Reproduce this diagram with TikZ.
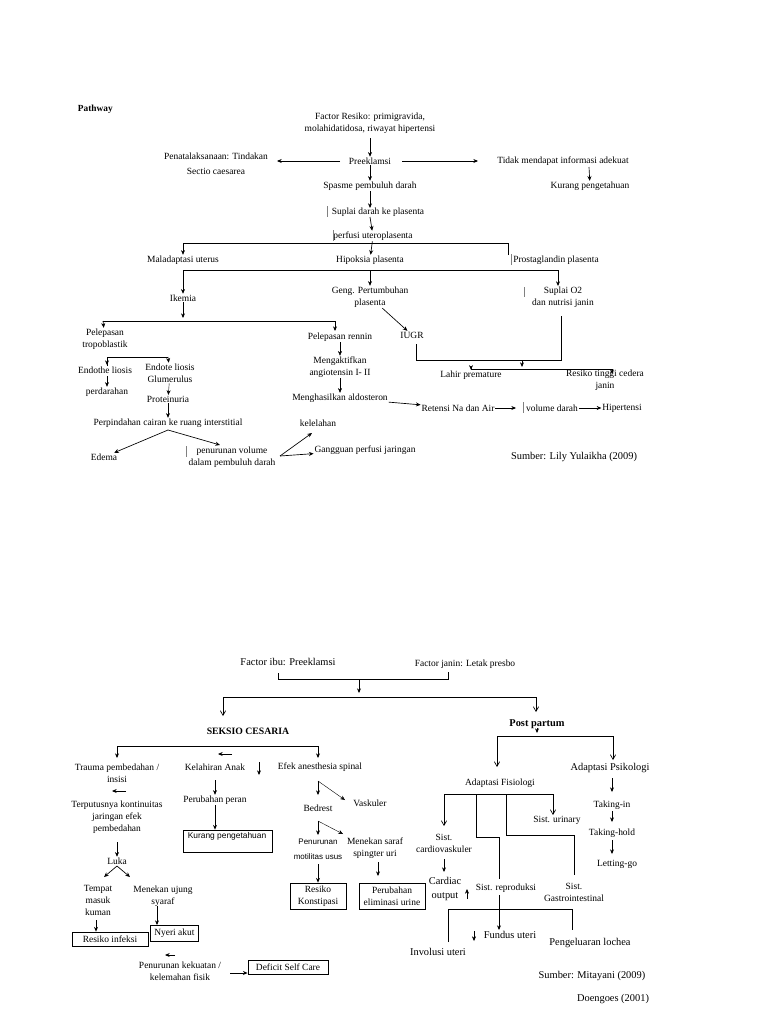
\documentclass[tikz,border=0pt]{standalone}
\usepackage{fontspec}
\setmainfont{Liberation Serif}
\newfontfamily\sansf{Liberation Sans}
\usetikzlibrary{arrows.meta}
\begin{document}
\begin{tikzpicture}[x=0.75pt,y=-0.75pt,
 t/.style={inner sep=0.5pt,align=center,font=\fontsize{7.1}{9}\selectfont},
 tb/.style={inner sep=0.5pt,align=center,font=\fontsize{7.8}{10}\selectfont},
 ar/.style={-{Stealth[length=3.5pt,width=3pt]},line width=0.5pt},
 oa/.style={-{Straight Barb[length=3.5pt,width=4pt]},line width=0.5pt},
 ln/.style={line width=0.6pt},
 tk/.style={line width=0.3pt,gray},
 bx/.style={draw,line width=0.6pt,inner sep=0pt}]
\useasboundingbox (0,0) rectangle (768,1024);
% ---------- TOP ----------
\node[t,font=\bfseries\fontsize{7}{9}\selectfont,anchor=west] (path) at (77,109) {Pathway};
\node[t] (fr) at (370,123) {Factor Resiko: primigravida,\\molahidatidosa, riwayat hipertensi};
\node[t] (pre) at (370,161) {Preeklamsi};
\node[t] (pen) at (216,164) {Penatalaksanaan: Tindakan\\[2pt]Sectio caesarea};
\node[t] (tid) at (563,161) {Tidak mendapat informasi adekuat};
\node[t] (kur) at (590,186) {Kurang pengetahuan};
\node[t] (spa) at (370,186) {Spasme pembuluh darah};
\node[t] (sup) at (378,212) {Suplai darah ke plasenta};
\node[t] (per) at (373,236) {perfusi uteroplasenta};
\draw[ar] (370,138) -- (pre);
\draw[ar] (340,161) -- (277,161);
\draw[ar] (402,161) -- (478,161);
\draw[ar] (589,167) -- (kur);
\draw[ar] (pre) -- (spa);
\draw[ar] (spa) -- (370,208);
\draw[ar] (370,217) -- (per);
\draw[tk] (327,206) -- (327,217);
\draw[tk] (333,230) -- (333,241);
\node[t] (mal) at (183,260) {Maladaptasi uterus};
\node[t] (hip) at (370,260) {Hipoksia plasenta};
\node[t] (pro) at (556,260) {Prostaglandin plasenta};
\draw[tk] (511,254) -- (511,265);
\draw[ln] (508,255) -- (508,243) -- (183,243);
\draw[ar] (183,243) -- (mal);
\draw[ar] (per) -- (hip);
\node[t] (ike) at (183,298) {Ikemia};
\node[t] (gen) at (370,297) {Geng. Pertumbuhan\\plasenta};
\node[t] (so2) at (563,297) {Suplai O2\\dan nutrisi janin};
\draw[tk] (524,287) -- (524,297);
\draw[ln] (183,278) -- (183,270) -- (558,270);
\draw[ar] (183,270) -- (ike);
\draw[ar] (370,270) -- (gen);
\draw[ar] (558,270) -- (558,286);
\draw[ar] (ike) -- (183,318);
\draw[ln] (103,321) -- (335,321);
\node[t] (pt) at (105,339) {Pelepasan\\tropoblastik};
\node[t] (pr) at (340,337) {Pelepasan rennin};
\node[t] (iugr) at (412,335) {IUGR};
\draw[ar] (103,321) -- (pt);
\draw[ar] (335,321) -- (335,331);
\draw[ar] (gen) -- (iugr);
\draw[ln] (416,344) -- (416,360) -- (561,360) -- (561,316);
\draw[ar] (522,360) -- (522,367);
\draw[ln] (471,369) -- (612,369);
\node[t] (lah) at (471,375) {Lahir premature};
\node[t] (res) at (605,380) {Resiko tinggi cedera\\janin};
\draw[ar] (471,369) -- (lah);
\draw[ar] (612,369) -- (612,374);
\draw[ln] (107,366) -- (107,357) -- (168,357);
\node[t] (e1) at (105,370) {Endothe liosis};
\node[t] (pd) at (107,392) {perdarahan};
\node[t] (e2) at (170,373) {Endote liosis\\Glumerulus};
\node[t] (prot) at (168,399) {Proteinuria};
\node[t] (pc) at (168,423) {Perpindahan cairan ke ruang interstitial};
\draw[ar] (107,357) -- (107,365);
\draw[ar] (107,376) -- (pd);
\draw[ar] (168,357) -- (e2);
\draw[ar,line width=0.3pt] (e2) -- (prot);
\draw[ar] (prot) -- (pc);
\node[t] (ede) at (104,457) {Edema};
\node[t] (pv) at (232,457) {penurunan volume\\dalam pembuluh darah};
\draw[tk] (186,446) -- (186,457);
\draw[ar] (168,430) -- (ede);
\draw[ar] (168,430) -- (220,445);
\node[t] (kel) at (318,423) {kelelahan};
\node[t] (gpj) at (365,450) {Gangguan perfusi jaringan};
\draw[ar] (280,456) -- (312,433);
\draw[ar] (280,456) -- (gpj);
\node[t] (men) at (340,367) {Mengaktifkan\\angiotensin I- II};
\node[t] (ald) at (340,398) {Menghasilkan aldosteron};
\draw[ar,line width=0.3pt] (pr) -- (men);
\draw[ar,line width=0.3pt] (men) -- (ald);
\node[t] (ret) at (458,408) {Retensi Na dan Air};
\node[t] (vd) at (552,408) {volume darah};
\node[t] (hpt) at (622,408) {Hipertensi};
\draw[tk] (523,402) -- (523,413);
\draw[ar] (ald) -- (ret);
\draw[ar] (ret) -- (516,408);
\draw[ar] (vd) -- (hpt);
\node[tb] (sum1) at (574,457) {Sumber: Lily Yulaikha (2009)};
% ---------- BOTTOM ----------
\node[tb] (fi) at (288,662) {Factor ibu: Preeklamsi};
\node[t] (fj) at (465,664) {Factor janin: Letak presbo};
\draw[ln] (278,673) -- (278,679) -- (448,679) -- (448,672);
\draw[ar] (359,679) -- (359,693);
\draw[ln] (223,697) -- (536,697);
\node[tb,font=\bfseries\fontsize{7.3}{9}\selectfont] (sc) at (248,731) {SEKSIO CESARIA};
\node[tb,font=\bfseries\fontsize{7.8}{9}\selectfont] (pp) at (537,724) {Post partum};
\draw[oa] (223,697) -- (223,716);
\draw[oa] (536,697) -- (536,712);
% SC branch
\draw[ln] (117,755) -- (117,746) -- (318,746) -- (318,755);
\draw[ar] (117,746) -- (117,758);
\draw[ar] (318,746) -- (318,758);
\draw[ar] (232,754) -- (218,754);
\node[t] (tr) at (117,773) {Trauma pembedahan /\\insisi};
\node[t] (ka) at (215,767) {Kelahiran Anak};
\node[t] (efk) at (320,767) {Efek anesthesia spinal};
\draw[ar] (259,762) -- (259,775);
\draw[ar] (126,791) -- (112,791);
\node[t] (ter) at (117,817) {Terputusnya kontinuitas\\jaringan efek\\pembedahan};
\node[t] (luk) at (117,861) {Luka};
\draw[ar] (117,842) -- (luk);
\draw[ar] (117,866) -- (104,877);
\draw[ar] (117,866) -- (130,877);
\node[t] (tem) at (98,900) {Tempat\\masuk\\kuman};
\node[t] (mu) at (163,896) {Menekan ujung\\syaraf};
\node[bx,t,minimum width=57,minimum height=10.5] (ri) at (110,939) {Resiko infeksi};
\node[bx,t,minimum width=36,minimum height=12,anchor=north west] (na) at (150,925) {Nyeri akut};
\draw[ar] (96,920) -- (ri.north-|96,0);
\draw[ar] (157,906) -- (157,925);
\draw[ar] (175,955) -- (165,955);
\node[t] (pk) at (180,971) {Penurunan kekuatan /\\kelemahan fisik};
\node[bx,t,minimum width=60,minimum height=10.5] (dsc) at (288,967) {Deficit Self Care};
\draw[ar] (230,973) -- (dsc.west|-0,973);
\node[t] (ppr) at (215,800) {Perubahan peran};
\draw[ar] (215,780) -- (ppr);
\node[bx,minimum width=67,minimum height=16.5] (kpb) at (228,841) {};
\node[t,font=\sansf\fontsize{6.3}{8}\selectfont] (kp) at (227,836) {Kurang pengetahuan};
\draw[ar] (ppr) -- (kpb.north-|215,0);
\node[t] (bed) at (318,808) {Bedrest};
\node[t] (vas) at (370,803) {Vaskuler};
\draw[ar] (318,781) -- (318,795);
\draw[ar,line width=0.3pt] (318,781) -- (345,800);
\node[t,font=\sansf\fontsize{6}{11}\selectfont] (pm) at (318,849) {Penurunan\\motilitas usus};
\node[t] (ms) at (375,848) {Menekan saraf\\spingter uri};
\draw[ar] (318,821) -- (318,835);
\draw[ar,line width=0.3pt] (318,821) -- (343,834);
\node[bx,t,minimum width=42,minimum height=19.5] (rk) at (318,896) {Resiko\\Konstipasi};
\node[bx,t,minimum width=49.5,minimum height=19.5] (pe) at (392,896) {Perubahan\\eliminasi urine};
\draw[ar] (318,864) -- (rk);
\draw[ar] (378,862) -- (378,876);
% Post partum branch
\draw[ar] (537,728) -- (537,733);
\draw[ln] (497,736) -- (613,736);
\draw[oa] (497,736) -- (497,767);
\draw[oa] (613,736) -- (613,760);
\node[t] (af) at (500,783) {Adaptasi Fisiologi};
\node[tb] (aps) at (610,768) {Adaptasi Psikologi};
\node[t] (tin) at (612,805) {Taking-in};
\node[t] (tho) at (612,833) {Taking-hold};
\node[t] (lgo) at (617,864) {Letting-go};
\draw[ar] (612,778) -- (612,792);
\draw[ar] (612,811) -- (612,822);
\draw[ar] (612,840) -- (612,854);
\draw[ln] (444,794) -- (553,794);
\draw[oa] (444,794) -- (444,826);
\draw[oa] (553,794) -- (553,815);
\node[t] (su) at (557,820) {Sist. urinary};
\draw[ln] (476,794) -- (476,837) -- (499,837) -- (499,879);
\draw[ln] (506,794) -- (506,835) -- (574,835) -- (574,875);
\node[t] (scv) at (444,843) {Sist.\\cardiovaskuler};
\node[tb] (co) at (445,889) {Cardiac\\output};
\draw[ar] (444,859) -- (444,872);
\draw[ar,line width=0.3pt] (467,899) -- (467,889);
\node[t] (sr) at (506,888) {Sist. reproduksi};
\node[t] (sg) at (574,892) {Sist.\\Gastrointestinal};
\draw[ln] (448,942) -- (448,909) -- (572,909) -- (572,930);
\draw[ar] (499,895) -- (499,930);
\node[tb] (fu) at (510,935) {Fundus uteri};
\draw[ar,line width=0.3pt] (474,931) -- (474,941);
\node[tb] (inv) at (438,952) {Involusi uteri};
\node[tb] (pl) at (590,943) {Pengeluaran lochea};
\node[tb] (sum2) at (592,976) {Sumber: Mitayani (2009)};
\node[tb] (doe) at (613,999) {Doengoes (2001)};
\end{tikzpicture}
\end{document}
